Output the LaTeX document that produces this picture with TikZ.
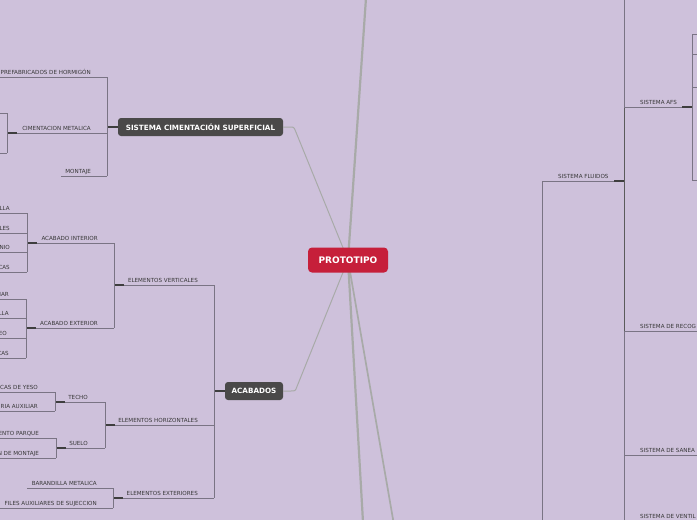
\documentclass[tikz,border=0pt]{standalone}
\usepackage{fontspec}
\setmainfont{DejaVu Sans}
\definecolor{bgc}{HTML}{CEC1DB}
\definecolor{rootc}{HTML}{C61F3A}
\definecolor{nodec}{HTML}{4A4949}
\definecolor{trunkc}{HTML}{A8AAA8}
\definecolor{linec}{HTML}{7A7484}
\definecolor{stubc}{HTML}{3E3E3E}
\definecolor{txtc}{HTML}{383838}
\begin{document}
\begin{tikzpicture}[x=1pt,y=-1pt,
  lbl/.style={font=\fontsize{5.6}{6}\selectfont, text=txtc, inner sep=0pt},
  ln/.style={draw=linec, line width=0.75pt},
  stub/.style={draw=stubc, line width=1.3pt},
  topic/.style={fill=nodec, rounded corners=3pt, text=white, font=\bfseries\fontsize{7.2}{8}\selectfont, minimum height=18pt, inner xsep=3pt, inner ysep=0pt},
  root/.style={fill=rootc, rounded corners=4pt, text=white, font=\bfseries\fontsize{9}{10}\selectfont, minimum width=80pt, minimum height=25pt},
  trunk/.style={draw=trunkc, line width=2.2pt},
  twig/.style={draw=trunkc, line width=1pt}]
\useasboundingbox (0,0) rectangle (697,520);
\fill[bgc] (0,0) rectangle (697,520);
\clip (0,0) rectangle (697,520);

% ---------- trunks from the root ----------
\coordinate (pc) at (348,260);
\coordinate (topend) at (366,-2);
\coordinate (botA) at (363,522);
\coordinate (botB) at (393.5,522);
\draw[trunk] (pc) -- (topend);
\draw[trunk] (pc) -- (botA);
\draw[trunk, line width=1.7pt] (pc) -- (botB);

\node[topic, minimum width=165pt] (cim) at (200.5,127) {SISTEMA CIMENTACIÓN SUPERFICIAL};
\node[topic, minimum width=58pt] (acab) at (254,391) {ACABADOS};

\draw[twig] (pc) -- (295.5,131) .. controls (293.8,127) .. (290,127) -- (cim.east);
\draw[twig] (pc) -- (297,386.5) .. controls (295.3,391) .. (291,391) -- (acab.east);

\node[root] (proto) at (pc) {PROTOTIPO};

% ---------- SISTEMA CIMENTACION SUPERFICIAL ----------
\draw[stub] (cim.west) -- (107,127);
\draw[ln] (107,77) -- (107,176);
\draw[ln] (0,77) -- (107,77);
\node[lbl, anchor=base east] (prefab) at (91,74) {PREFABRICADOS DE HORMIGÓN};
\draw[ln] (7,133) -- (107,133);
\draw[stub] (7,133) -- (17,133);
\node[lbl, anchor=base east] (cmet) at (91,130) {CIMENTACION METALICA};
\draw[ln] (7,113) -- (7,153);
\draw[ln] (0,113) -- (7,113);
\draw[ln] (0,153) -- (7,153);
\draw[ln] (61,176) -- (107,176);
\node[lbl, anchor=base east] (mont) at (91,173) {MONTAJE};

% ---------- ACABADOS ----------
\draw[stub] (acab.west) -- (214,391);
\draw[ln] (214,285) -- (214,498);

% ELEMENTOS VERTICALES
\draw[ln] (114,285) -- (214,285);
\draw[stub] (114,285) -- (124,285);
\node[lbl, anchor=base east] (ev) at (198,282) {ELEMENTOS VERTICALES};
\draw[ln] (114,243) -- (114,328);
% ACABADO INTERIOR
\draw[ln] (27,243) -- (114,243);
\draw[stub] (27,243) -- (37,243);
\node[lbl, anchor=base east] (ai) at (98,240) {ACABADO INTERIOR};
\draw[ln] (27,213) -- (27,272);
\foreach \yy/\tt in {213/LLA,233/LES,252/NIO,272/CAS}{
  \draw[ln] (0,\yy) -- (27,\yy);
  \node[lbl, anchor=base east] at (10,\yy-3) {\tt};
}
% ACABADO EXTERIOR
\draw[ln] (26,328) -- (114,328);
\draw[stub] (26,328) -- (36,328);
\node[lbl, anchor=base east] (ae) at (98,325) {ACABADO EXTERIOR};
\draw[ln] (26,299) -- (26,358);
\foreach \yy/\xx/\tt in {299/9/IAR,318/9/LLA,338/7/EO,358/9/CAS}{
  \draw[ln] (0,\yy) -- (26,\yy);
  \node[lbl, anchor=base east] at (\xx,\yy-3) {\tt};
}

% ELEMENTOS HORIZONTALES
\draw[ln] (105,425) -- (214,425);
\draw[stub] (105,425) -- (115,425);
\node[lbl, anchor=base east] (eh) at (198,422) {ELEMENTOS HORIZONTALES};
\draw[ln] (105,402) -- (105,448);
% TECHO
\draw[ln] (55,402) -- (105,402);
\draw[stub] (55,402) -- (65,402);
\node[lbl, anchor=base east] (techo) at (88,399) {TECHO};
\draw[ln] (55,392) -- (55,411);
\draw[ln] (0,392) -- (55,392);
\node[lbl, anchor=base east] at (38,389) {ACAS DE YESO};
\draw[ln] (0,411) -- (55,411);
\node[lbl, anchor=base east] at (38,408) {RIA AUXILIAR};
% SUELO
\draw[ln] (56,448) -- (105,448);
\draw[stub] (56,448) -- (66,448);
\node[lbl, anchor=base east] (suelo) at (88,445) {SUELO};
\draw[ln] (56,438) -- (56,458);
\draw[ln] (0,438) -- (56,438);
\node[lbl, anchor=base east] at (39,435) {ENTO PARQUE};
\draw[ln] (0,458) -- (56,458);
\node[lbl, anchor=base east] at (39,455) {N DE MONTAJE};

% ELEMENTOS EXTERIORES
\draw[ln] (113,498) -- (214,498);
\draw[stub] (113,498) -- (123,498);
\node[lbl, anchor=base east] (ee) at (198,495) {ELEMENTOS EXTERIORES};
\draw[ln] (113,488) -- (113,508);
\draw[ln] (27,488) -- (113,488);
\node[lbl, anchor=base east] (bar) at (97,485) {BARANDILLA METALICA};
\draw[ln] (0,508) -- (113,508);
\node[lbl, anchor=base east] (perf) at (97,505) {FILES AUXILIARES DE SUJECCION};

% ---------- right side ----------
\draw[ln] (542,181) -- (542,522);
\draw[ln] (542,181) -- (624,181);
\draw[stub] (614,181) -- (624,181);
\node[lbl, anchor=base west] (fluid) at (558,178) {SISTEMA FLUIDOS};
\draw[ln] (624,-2) -- (624,522);
\draw[ln, draw=stubc!85] (624,107) -- (624,331);

\draw[ln] (624,107) -- (692,107);
\draw[stub] (682,107) -- (692,107);
\node[lbl, anchor=base west] (afs) at (640,104) {SISTEMA AFS};
\draw[ln] (692,34) -- (692,180);
\foreach \yy in {34,54,87,180}{ \draw[ln] (692,\yy) -- (699,\yy); }

\draw[ln] (624,331) -- (699,331);
\node[lbl, anchor=base west] (recog) at (640,328) {SISTEMA DE RECOG};
\draw[ln] (624,455) -- (699,455);
\node[lbl, anchor=base west] (sanea) at (640,452) {SISTEMA DE SANEA};
\node[lbl, anchor=base west] (venti) at (640,518) {SISTEMA DE VENTIL};
\end{tikzpicture}
\end{document}
